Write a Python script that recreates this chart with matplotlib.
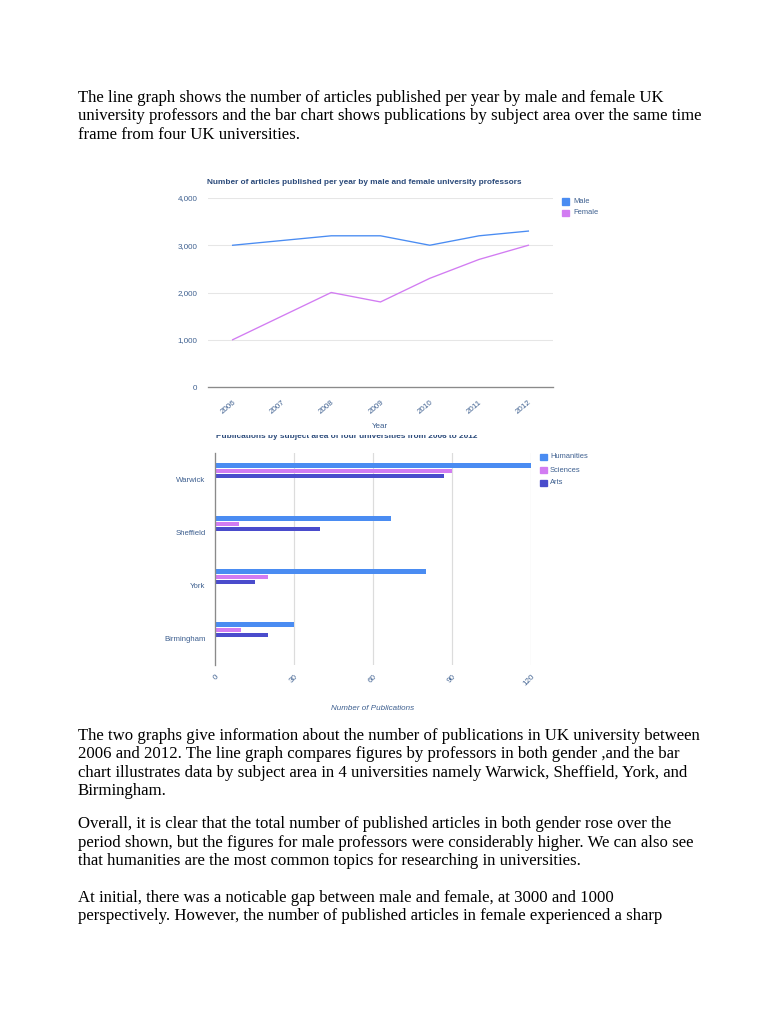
import matplotlib
matplotlib.use("Agg")
import matplotlib.pyplot as plt
from matplotlib.patches import Rectangle

# ---------------- data ----------------
years = ["2006", "2007", "2008", "2009", "2010", "2011", "2012"]
male = [3000, 3100, 3200, 3200, 3000, 3200, 3300]
female = [1000, 1500, 2000, 1800, 2300, 2700, 3000]
line_yticks = [0, 1000, 2000, 3000, 4000]

universities = ["Warwick", "Sheffield", "York", "Birmingham"]
humanities = [120, 67, 80, 30]
sciences = [90, 9, 20, 10]
arts = [87, 40, 15, 20]
bar_xticks = [0, 30, 60, 90, 120]

para1 = ["The line graph shows the number of articles published per year by male and female UK",
         "university professors and the bar chart shows publications by subject area over the same time",
         "frame from four UK universities."]
para2 = ["The two graphs give information about the number of publications in UK university between",
         "2006 and 2012. The line graph compares figures by professors in both gender ,and the bar",
         "chart illustrates data by subject area in 4 universities namely Warwick, Sheffield, York, and",
         "Birmingham."]
para3 = ["Overall, it is clear that the total number of published articles in both gender rose over the",
         "period shown, but the figures for male professors were considerably higher. We can also see",
         "that humanities are the most common topics for researching in universities."]
para4 = ["At initial, there was a noticable gap between male and female, at 3000 and 1000",
         "perspectively. However, the number of published articles in female experienced a sharp"]

# ---------------- styling ----------------
W, H = 768, 1024
C_BLUE = "#4a8cf2"
C_VIOLET = "#d27cf2"
C_ARTS = "#4a4ccc"
C_LABEL = "#3d5f8f"
C_TITLE = "#2b4a7a"
SANS = ["Liberation Sans", "DejaVu Sans"]
SERIF = ["Liberation Serif", "DejaVu Serif"]

fig = plt.figure(figsize=(W / 96, H / 96), dpi=96)
fig.patch.set_facecolor("white")


def fx(px):
    return px / W


def fy(py):
    return 1 - py / H


def ax_rect(l, t, r, b):
    return [fx(l), fy(b), fx(r) - fx(l), (b - t) / H]


# ---------------- paragraphs ----------------
LX = 78
LS = 18.4
for start, lines in [(102, para1), (740, para2), (828.5, para3), (901.5, para4)]:
    for i, s in enumerate(lines):
        fig.text(fx(LX), fy(start + i * LS), s, family=SERIF, fontsize=12.55,
                 color="black", va="baseline", ha="left")

# ---------------- line chart ----------------
ax1 = fig.add_axes(ax_rect(208, 198, 553, 387))
xs = list(range(len(years)))
ax1.plot(xs, male, color=C_BLUE, lw=1.0, label="Male")
ax1.plot(xs, female, color=C_VIOLET, lw=1.0, label="Female")
ax1.set_xlim(-0.5, len(years) - 0.5)
ax1.set_ylim(0, 4000)
ax1.set_yticks(line_yticks)
ax1.set_yticklabels([f"{v:,}" for v in line_yticks], family=SANS, fontsize=6, color=C_LABEL)
ax1.set_xticks(xs)
ax1.set_xticklabels(years, rotation=40, ha="right", va="top", family=SANS,
                    fontsize=6, color=C_LABEL, rotation_mode="anchor")
ax1.tick_params(axis="both", length=0)
ax1.tick_params(axis="y", pad=8)
ax1.tick_params(axis="x", pad=9)
for sp in ["top", "right", "left"]:
    ax1.spines[sp].set_visible(False)
ax1.spines["bottom"].set_color("#8a8a8a")
ax1.spines["bottom"].set_linewidth(1.0)
for v in line_yticks[1:]:
    ax1.axhline(v, color="#e6e6e6", lw=0.8, zorder=0)
ax1.set_facecolor("none")
fig.text(fx(380), fy(426), "Year", family=SANS, fontsize=6, color=C_LABEL, ha="center", va="center")
fig.text(fx(207), fy(183), "Number of articles published per year by male and female university professors",
         family=SANS, fontsize=6.2, fontweight="bold", color=C_TITLE, ha="left", va="center")
for i, (lab, col) in enumerate([("Male", C_BLUE), ("Female", C_VIOLET)]):
    y = 201.5 + i * 11.5
    fig.patches.append(Rectangle((fx(562), fy(y + 3.2)), 6.5 / W, 6.5 / H, color=col,
                                 transform=fig.transFigure, figure=fig))
    fig.text(fx(573), fy(y), lab, family=SANS, fontsize=5.6, color=C_LABEL, ha="left", va="center")

# ---------------- bar chart ----------------
ax2 = fig.add_axes(ax_rect(215, 453, 531, 665))
ys = list(range(len(universities)))
bh = 0.082
offs = [-0.262, -0.162, -0.062]
ax2.barh([y + offs[0] for y in ys], humanities, height=bh, color=C_BLUE, label="Humanities")
ax2.barh([y + offs[1] for y in ys], sciences, height=bh, color=C_VIOLET, label="Sciences")
ax2.barh([y + offs[2] for y in ys], arts, height=bh, color=C_ARTS, label="Arts")
ax2.set_ylim(len(universities) - 0.5, -0.5)
ax2.set_xlim(0, 120)
ax2.set_yticks(ys)
ax2.set_yticklabels(universities, family=SANS, fontsize=5.8, color=C_LABEL)
ax2.set_xticks(bar_xticks)
ax2.set_xticklabels([str(v) for v in bar_xticks], rotation=45, ha="right", va="top",
                    rotation_mode="anchor", family=SANS, fontsize=6, color=C_LABEL)
ax2.tick_params(axis="both", length=0)
ax2.tick_params(axis="y", pad=7)
ax2.tick_params(axis="x", pad=6)
for sp in ["top", "right", "bottom"]:
    ax2.spines[sp].set_visible(False)
ax2.spines["left"].set_color("#8a8a8a")
ax2.spines["left"].set_linewidth(1.0)
for v in bar_xticks[1:]:
    ax2.axvline(v, color="#dcdcdc", lw=0.9, zorder=0)
ax2.set_facecolor("none")
fig.text(fx(373), fy(709), "Number of Publications", family=SANS, fontsize=6, style="italic",
         color=C_LABEL, ha="center", va="center")
t = fig.text(fx(216), fy(437), "Publications by subject area of four universities from 2006 to 2012",
             family=SANS, fontsize=6.2, fontweight="bold", color=C_TITLE, ha="left", va="center")
clip = Rectangle((0, 0), 1, fy(434.5), transform=fig.transFigure)
t.set_clip_path(clip)
for i, (lab, col) in enumerate([("Humanities", C_BLUE), ("Sciences", C_VIOLET), ("Arts", C_ARTS)]):
    y = 457 + i * 13
    fig.patches.append(Rectangle((fx(540), fy(y + 3.3)), 6.5 / W, 6.5 / H, color=col,
                                 transform=fig.transFigure, figure=fig))
    fig.text(fx(550), fy(y), lab, family=SANS, fontsize=5.6, color=C_LABEL, ha="left", va="center")

fig.savefig("out.png", dpi=96, facecolor="white")
